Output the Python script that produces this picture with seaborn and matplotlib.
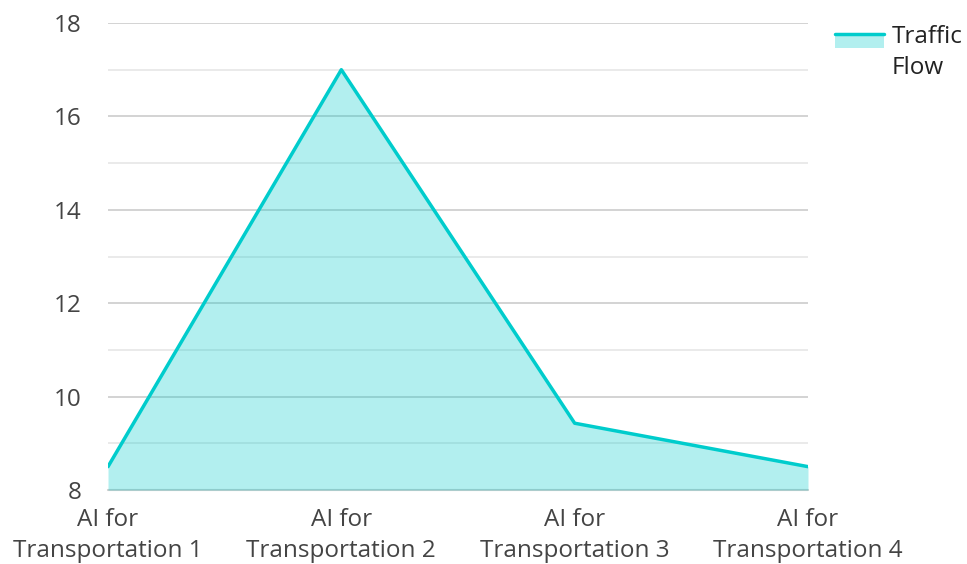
import matplotlib
matplotlib.use("Agg")
import matplotlib.pyplot as plt
import seaborn as sns
import pandas as pd
from matplotlib.patches import Rectangle
from matplotlib.lines import Line2D
from matplotlib.legend_handler import HandlerBase

categories = ["AI for\nTransportation 1", "AI for\nTransportation 2",
              "AI for\nTransportation 3", "AI for\nTransportation 4"]
traffic_flow = [8.5, 17.0, 9.43, 8.5]
series_name = "Traffic\nFlow"
y_ticks = [8, 10, 12, 14, 16, 18]

LINE = "#00CCCC"
TEXT = "#444444"
FS = 17.5

sns.set_theme(style="white")
plt.rcParams["font.family"] = ["Open Sans", "DejaVu Sans"]

df = pd.DataFrame({"x": range(len(categories)), "value": traffic_flow})

fig = plt.figure(figsize=(9.67, 5.64), dpi=100)
ax = fig.add_axes([108 / 967, 1 - 490 / 564, 700 / 967, 467 / 564])

ax.fill_between(df["x"], 8, df["value"], color=LINE, alpha=0.3, linewidth=0, zorder=2)
sns.lineplot(data=df, x="x", y="value", ax=ax, color=LINE, linewidth=2.5, zorder=3)

ax.set_xlim(0, len(categories) - 1)
ax.set_ylim(8, 18)
ax.set_yticks(y_ticks)
ax.set_yticks([9, 11, 13, 15, 17], minor=True)
ax.set_xticks(range(len(categories)))
ax.set_xticklabels(categories, linespacing=1.4)
ax.grid(axis="y", which="major", color="#cccccc", linewidth=1.2, zorder=1)
ax.grid(axis="y", which="minor", color="#e6e6e6", linewidth=1.2, zorder=1)
ax.axhline(y_ticks[0], color="#cccccc", linewidth=1.5, zorder=1, clip_on=False)
ax.set_axisbelow(True)
for s in ax.spines.values():
    s.set_visible(False)
ax.tick_params(axis="y", which="both", length=0, pad=19, labelsize=FS, labelcolor=TEXT)
ax.tick_params(axis="x", length=0, pad=13, labelsize=FS, labelcolor=TEXT)
ax.set_xlabel("")
ax.set_ylabel("")


class AreaHandler(HandlerBase):
    def create_artists(self, legend, orig_handle, xdescent, ydescent,
                       width, height, fontsize, trans):
        top = height * 0.95 + 8.5
        rect = Rectangle((-xdescent, -ydescent + top - height * 0.9), width, height * 0.9,
                         facecolor=LINE, alpha=0.3, linewidth=0, transform=trans)
        line = Line2D([-xdescent, -xdescent + width], [-ydescent + top, -ydescent + top],
                      color=LINE, linewidth=2.5, transform=trans)
        return [rect, line]


proxy = object()
leg = fig.legend([proxy], [series_name], handler_map={object: AreaHandler()},
                 loc="upper left", bbox_to_anchor=(835 / 967, 1 - 25 / 564),
                 frameon=False, fontsize=FS, labelcolor="#222222",
                 handlelength=2.0, handleheight=0.6, handletextpad=0.35,
                 borderaxespad=0, borderpad=0)
for t in leg.get_texts():
    t.set_linespacing(1.4)

fig.savefig("out.png", dpi=100)
